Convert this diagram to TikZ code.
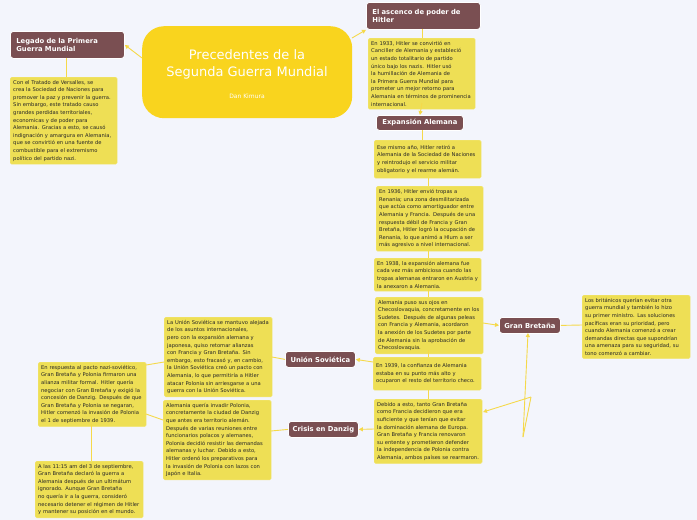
\documentclass[tikz,border=0pt]{standalone}
\usepackage{fontspec}
\setmainfont{DejaVu Sans}
\usetikzlibrary{arrows.meta}
\definecolor{bg}{HTML}{F3F5FC}
\definecolor{brn}{HTML}{7A4F52}
\definecolor{yb}{HTML}{EEDF55}
\definecolor{yc}{HTML}{F9D41E}
\definecolor{ln}{HTML}{F5D94A}
\newcommand\ybfont{\fontsize{5.2}{7.6}\selectfont\hyphenpenalty=10000 \exhyphenpenalty=10000 }
\tikzset{
 ybox/.style={fill=yb,draw=yb!80!white,rounded corners=1.5pt,inner sep=3pt,align=left,font=\ybfont,text=black!85,anchor=north west},
 tbox/.style={fill=brn,draw=white,line width=0.8pt,rounded corners=3pt,text=white,font=\bfseries\fontsize{6.8}{9}\selectfont,align=left,anchor=north west},
 con/.style={ln,line width=0.9pt},
 arr/.style={con,-{Triangle[length=4pt,width=4pt]}}
}
\newcommand\bx[6]{\node[ybox,minimum width=#4-#2,minimum height=#5-#3,text width=#4-#2-6] (#1) at (#2,#3) {#6};}
\newcommand\tb[6]{\node[tbox,minimum width=#4-#2,minimum height=#5-#3,text width=#4-#2-12,inner xsep=6pt] (#1) at (#2,#3) {#6};}
\begin{document}
\begin{tikzpicture}[x=1pt,y=-1pt]
\fill[bg] (0,0) rectangle (697,520);
\useasboundingbox (0,0) rectangle (697,520);
% center
\node[fill=yc,rounded corners=22pt,minimum width=210,minimum height=92,anchor=north west,text=white,align=center] (c) at (142,26) {};
\node[text=white,align=center,font=\fontsize{13}{17}\selectfont] at (247,64) {Precedentes de la\\Segunda Guerra Mundial};
\node[text=white,font=\fontsize{6}{7}\selectfont] at (247,96) {Dan Kimura};
\tb{leg}{10}{31}{124}{58}{Legado de la Primera\\[-1pt]Guerra Mundial}
\bx{legt}{10}{77}{117}{160}{Con el Tratado de Versalles, se crea la Sociedad de Naciones para promover la paz y prevenir la guerra. Sin embargo, este tratado causo grandes perdidas territoriales, economicas y de poder para Alemania. Gracias a esto, se causó indignación y amargura en Alemania, que se convirtió en una fuente de combustible para el extremismo político del partido nazi.}
\tb{asc}{366}{2}{480}{29}{El ascenco de poder de\\[-1pt]Hitler}
\bx{asct}{368}{38}{475}{103}{En 1933, Hitler se convirtió en Canciller de Alemania y estableció un estado totalitario de partido único bajo los nazis. Hitler usó la humillación de Alemania de la Primera Guerra Mundial para prometer un mejor retorno para Alemania en términos de prominencia internacional.}
\node[tbox,anchor=north west,minimum width=87,minimum height=15,inner ysep=2pt] (exp) at (376,115) {Expansión Alemana};
\bx{t1}{374}{140}{481}{178}{Ese mismo año, Hitler retiró a Alemania de la Sociedad de Naciones y reintrodujo el servicio militar obligatorio y el rearme alemán.}
\bx{t2}{376}{186}{483}{251}{En 1936, Hitler envió tropas a Renania; una zona desmilitarizada que actúa como amortiguador entre Alemania y Francia. Después de una respuesta débil de Francia y Gran Bretaña, Hitler logró la ocupación de Renania, lo que animó a Hlum a ser más agresivo a nivel internacional.}
\bx{t3}{374}{258}{481}{289}{En 1938, la expansión alemana fue cada vez más ambiciosa cuando las tropas alemanas entraron en Austria y la anexaron a Alemania.}
\bx{t4}{375}{297}{483}{350}{Alemania puso sus ojos en Checoslovaquia, concretamente en los Sudetes. Después de algunas peleas con Francia y Alemania, acordaron la anexión de los Sudetes por parte de Alemania sin la aprobación de Checoslovaquia.}
\node[tbox,minimum width=61,minimum height=16,inner ysep=2pt] (gb) at (499,317) {Gran Bretaña};
\bx{gbt}{582}{295}{690}{355}{Los británicos querían evitar otra guerra mundial y también lo hizo su primer ministro. Las soluciones pacíficas eran su prioridad, pero cuando Alemania comenzó a crear demandas directas que supondrían una amenaza para su seguridad, su tono comenzó a cambiar.}
\bx{t5}{373}{357}{481}{390}{En 1939, la confianza de Alemania estaba en su punto más alto y ocuparon el resto del territorio checo.}
\bx{t6}{374}{399}{482}{463}{Debido a esto, tanto Gran Bretaña como Francia decidieron que era suficiente y que tenían que evitar la dominación alemana de Europa. Gran Bretaña y Francia renovaron su entente y prometieron defender la independencia de Polonia contra Alemania, ambos países se rearmaron.}
\node[tbox,minimum width=70,minimum height=16,inner ysep=2pt] (us) at (285,351) {Unión Soviética};
\bx{ust}{164}{317}{272}{392}{La Unión Soviética se mantuvo alejada de los asuntos internacionales, pero con la expansión alemana y japonesa, quiso retomar alianzas con Francia y Gran Bretaña. Sin embargo, esto fracasó y, en cambio, la Unión Soviética creó un pacto con Alemania, lo que permitiría a Hitler atacar Polonia sin arriesgarse a una guerra con la Unión Soviética.}
\node[tbox,minimum width=70,minimum height=16,inner ysep=2pt] (cd) at (288,421) {Crisis en Danzig};
\bx{cdt}{163}{400}{271}{470}{Alemania quería invadir Polonia, concretamente la ciudad de Danzig que antes era territorio alemán. Después de varias reuniones entre funcionarios polacos y alemanes, Polonia decidió resistir las demandas alemanas y luchar. Debido a esto, Hitler ordenó los preparativos para la invasión de Polonia con lazos con Japón e Italia.}
\bx{res}{38}{362}{146}{424}{En respuesta al pacto nazi-soviético, Gran Bretaña y Polonia firmaron una alianza militar formal. Hitler quería negociar con Gran Bretaña y exigió la concesión de Danzig. Después de que Gran Bretaña y Polonia se negaran, Hitler comenzó la invasión de Polonia el 1 de septiembre de 1939.}
\bx{ult}{35}{461}{143}{517}{A las 11:15 am del 3 de septiembre, Gran Bretaña declaró la guerra a Alemania después de un ultimátum ignorado. Aunque Gran Bretaña no quería ir a la guerra, consideró necesario detener el régimen de Hitler y mantener su posición en el mundo.}
% connectors
\draw[arr] (142,58) -- (leg.east);
\draw[arr] (352,38) -- (asc.south west);
\draw[con] (66,58) -- (66,77);
\draw[con] (422,29) -- (422,38);
\draw[arr] (422,103) -- (exp.north);
\draw[con] (422,130) -- (422,140);
\draw[con] (428,178) -- (428,186);
\draw[con] (428,251) -- (428,258);
\draw[con] (428,289) -- (428,297);
\draw[con] (428,350) -- (428,357);
\draw[con] (428,390) -- (428,399);
\draw[arr] (483,323) -- (gb.west);
\draw[con] (gb.east) -- (582,325);
\coordinate (k) at (531,397);
\draw[arr] (k) -- (483,412);
\draw[con] (k) -- (523,437);
\draw[arr] (523,437) -- (528,333);
\draw[arr] (373,362) -- (us.east);
\draw[arr] (374,429) -- (cd.east);
\draw[con] (us.west) -- (272,357);
\draw[con] (cd.west) -- (271,431);
\draw[con] (146,365) -- (164,362);
\draw[con] (146,414) -- (163,420);
\draw[con] (91,424) -- (91,461);
\end{tikzpicture}
\end{document}
